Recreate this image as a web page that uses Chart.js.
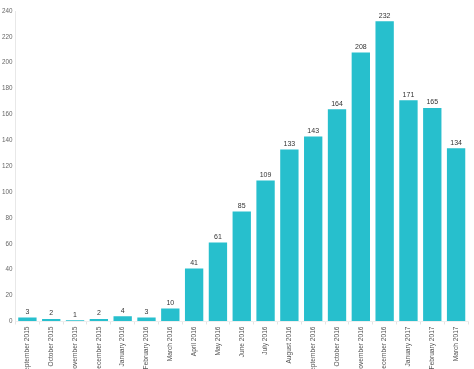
<!DOCTYPE html>
<html><head><meta charset="utf-8">
<script src="https://cdn.jsdelivr.net/npm/chart.js@4/dist/chart.umd.min.js"></script>
<style>html,body{margin:0;padding:0;background:#fff;overflow:hidden}#wrap{width:474px;height:369px;position:relative}</style>
</head><body><div id="wrap"><canvas id="c"></canvas></div>
<script>
const categories = ["September 2015","October 2015","November 2015","December 2015","January 2016","February 2016","March 2016","April 2016","May 2016","June 2016","July 2016","August 2016","September 2016","October 2016","November 2016","December 2016","January 2017","February 2017","March 2017"];
const counts = [3,2,1,2,4,3,10,41,61,85,109,133,143,164,208,232,171,165,134];
const yTicks = [0,20,40,60,80,100,120,140,160,180,200,220,240];

const valueLabels = {
  id: 'valueLabels',
  afterDatasetsDraw(chart) {
    const ctx = chart.ctx;
    const meta = chart.getDatasetMeta(0);
    ctx.save();
    ctx.font = '7px "Liberation Sans", Arial, sans-serif';
    ctx.fillStyle = '#333';
    ctx.textAlign = 'center';
    ctx.textBaseline = 'bottom';
    meta.data.forEach((bar, i) => {
      ctx.fillText(String(counts[i]), bar.x, bar.y - 2);
    });
    ctx.restore();
  }
};

new Chart(document.getElementById('c'), {
  type: 'bar',
  data: { labels: categories, datasets: [{ data: counts, backgroundColor: '#27BFCD', borderWidth: 0, barPercentage: 0.77, categoryPercentage: 1 }] },
  options: {
    responsive: true, maintainAspectRatio: false, animation: false,
    layout: { padding: { top: 11, right: 6, left: 0, bottom: 0 } },
    plugins: { legend: { display: false }, tooltip: { enabled: false } },
    scales: {
      x: {
        grid: { display: true, drawOnChartArea: false, drawTicks: true, tickLength: 3, color: '#e4e4e4', offset: true },
        border: { display: true, color: '#eee' },
        ticks: { autoSkip: false, maxRotation: 90, minRotation: 90, color: '#555', padding: 2, font: { family: '"Liberation Sans", Arial, sans-serif', size: 6.6 } },
        afterFit(s) { s.height = 47.5; }
      },
      y: {
        min: 0, max: 240,
        afterBuildTicks(s) { s.ticks = yTicks.map(v => ({ value: v })); },
        grid: { display: true, drawOnChartArea: false, drawTicks: false, color: '#eee' },
        border: { display: true, color: '#e8e8e8' },
        ticks: { color: '#666', padding: 3, font: { family: '"Liberation Sans", Arial, sans-serif', size: 6.3 } },
        afterFit(s) { s.width = 15.5; }
      }
    }
  },
  plugins: [valueLabels]
});
</script></body></html>
